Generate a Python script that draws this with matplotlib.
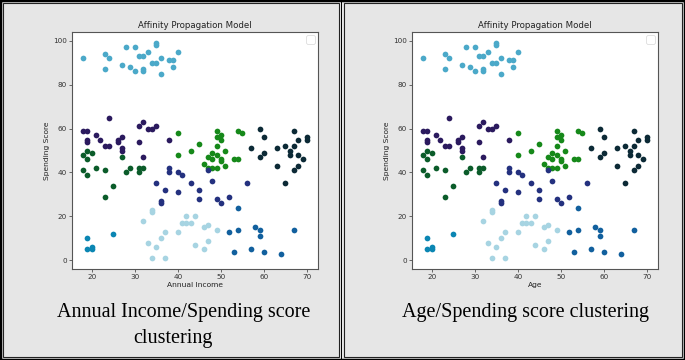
import matplotlib
matplotlib.use("Agg")
import matplotlib.pyplot as plt
from matplotlib.patches import Rectangle

# ---- data (same points in both panels) ----
sky_x = [18, 23, 24, 23, 28, 30, 27, 29, 30, 31, 32, 32, 32, 33, 34, 35, 35, 35, 36, 36, 38, 39, 39, 40]
sky_y = [92, 94, 92, 87, 97, 97, 89, 88, 86, 93, 93, 87, 86, 95, 90, 90, 99, 98, 92, 85, 91, 91, 88, 95]

purple_x = [18, 19, 19, 19, 21, 22, 24, 23, 24, 26, 26, 27, 27, 27, 31, 31, 32, 33, 34, 35, 32, 38]
purple_y = [59, 59, 55, 54, 57, 55, 65, 52, 52, 55, 54, 56, 51, 50, 61, 54, 63, 60, 60, 61, 47, 55]

dgreen_x = [18, 19, 19, 20, 18, 19, 21, 23, 23, 25, 27, 28, 29, 31, 31, 32]
dgreen_y = [48, 50, 46, 49, 41, 39, 42, 41, 29, 34, 47, 40, 42, 42, 40, 42]

green_x = [40, 40, 43, 45, 46, 47, 48, 49, 48, 47, 48, 49, 49, 49, 50, 50, 49, 50, 50, 51, 51, 53, 54, 54, 55]
green_y = [58, 48, 50, 53, 44, 47, 49, 48, 46, 42, 42, 42, 59, 56, 57, 55, 52, 46, 45, 50, 43, 46, 46, 59, 58]

vdark_x = [59, 60, 57, 59, 60, 63, 63, 65, 65, 66, 66, 67, 67, 67, 68, 68, 68, 69, 70, 70]
vdark_y = [60, 56, 51, 47, 49, 51, 43, 52, 35, 50, 48, 59, 52, 41, 55, 48, 43, 46, 56, 55]

navy_x = [35, 37, 36, 36, 38, 38, 40, 41, 40, 43, 45, 45, 47, 48, 49, 50, 52, 56]
navy_y = [35, 32, 27, 26, 42, 40, 40, 39, 31, 35, 32, 28, 41, 36, 28, 26, 29, 35]

mblue_x = [54, 52, 54, 58, 59, 59, 67, 53, 57, 60, 64]
mblue_y = [24, 13, 14, 15, 14, 11, 14, 4, 5, 4, 3]

teal_x = [19, 19, 20, 20, 25]
teal_y = [10, 5, 6, 5, 12]

light_x = [32, 34, 34, 33, 35, 34, 37, 36, 37, 40, 41, 42, 42, 43, 44, 44, 46, 47, 46, 47, 49]
light_y = [18, 23, 22, 8, 6, 1, 1, 10, 13, 13, 17, 20, 17, 17, 20, 7, 15, 16, 5, 9, 14]

clusters = [
    (sky_x, sky_y, '#4ba9c9'),
    (purple_x, purple_y, '#2b1a5e'),
    (dgreen_x, dgreen_y, '#0b5c2a'),
    (green_x, green_y, '#16891a'),
    (vdark_x, vdark_y, '#0c2a36'),
    (navy_x, navy_y, '#24317f'),
    (mblue_x, mblue_y, '#12609e'),
    (teal_x, teal_y, '#0b86b3'),
    (light_x, light_y, '#a7d4e2'),
]

x_ticks = [20, 30, 40, 50, 60, 70]
y_ticks = [0, 20, 40, 60, 80, 100]
titles = ["Affinity Propagation Model", "Affinity Propagation Model"]
x_labels = ["Annual Income", "Age"]
y_label = "Spending Score"
captions = [("Annual Income/Spending score", "clustering"), ("Age/Spending score clustering", None)]

W, H = 685, 360
fig = plt.figure(figsize=(W / 100, H / 100), dpi=100)
fig.patch.set_facecolor('#e6e6e6')

# panel borders
fig.add_artist(Rectangle((0, 0), 1, 1, transform=fig.transFigure, fill=False,
                         edgecolor='black', linewidth=2.5))
fig.add_artist(Rectangle((341 / W, 0), 1 / W, 1, transform=fig.transFigure,
                         facecolor='black', edgecolor='none'))
for x0, x1 in [(3, 339), (344, 682)]:
    fig.add_artist(Rectangle((x0 / W, 3 / H), (x1 - x0) / W, (H - 6) / H,
                             transform=fig.transFigure, fill=False,
                             edgecolor='#222222', linewidth=0.8))

ax_lefts = [72, 412]
for i in range(2):
    ax = fig.add_axes([ax_lefts[i] / W, (H - 269) / H, 246 / W, 237 / H])
    ax.set_facecolor('white')
    for cx, cy, col in clusters:
        ax.scatter(cx, cy, s=17, color=col, linewidths=0)
    ax.set_xticks(x_ticks)
    ax.set_yticks(y_ticks)
    ax.tick_params(labelsize=5.2, length=2.2, width=0.5, pad=1.5, colors='#333333')
    for sp in ax.spines.values():
        sp.set_color('#555555')
        sp.set_linewidth(0.8)
    ax.set_title(titles[i], fontsize=6.2, pad=3, color='#222222')
    ax.set_xlabel(x_labels[i], fontsize=5.4, labelpad=1.5, color='#222222')
    ax.set_ylabel(y_label, fontsize=5.4, labelpad=2, color='#222222')
    leg = ax.legend(handles=[], loc='upper right', fontsize=5, borderpad=0.6,
                    borderaxespad=0.5, frameon=True)
    leg.get_frame().set_linewidth(0.5)
    leg.get_frame().set_edgecolor('#cccccc')

serif = ['Liberation Serif', 'DejaVu Serif']
fig.text(184 / W, 1 - 313 / H, captions[0][0], family=serif, fontsize=14.5,
         ha='center', va='center')
fig.text(173 / W, 1 - 338 / H, captions[0][1], family=serif, fontsize=14.5,
         ha='center', va='center')
fig.text(525 / W, 1 - 313 / H, captions[1][0], family=serif, fontsize=14.5,
         ha='center', va='center')

fig.savefig('out.png', dpi=100, facecolor=fig.get_facecolor())
